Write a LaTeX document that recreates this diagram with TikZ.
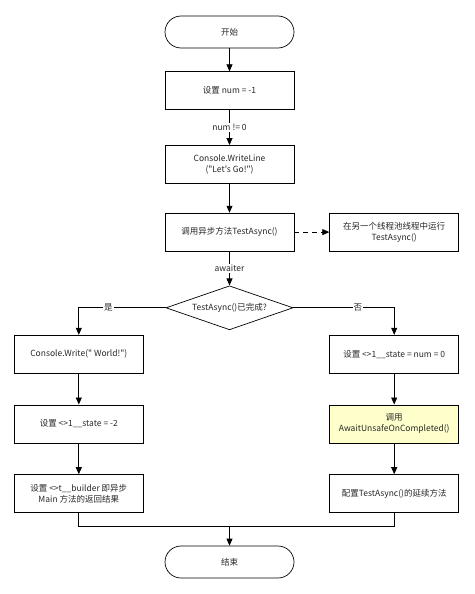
\documentclass[tikz,border=0pt]{standalone}
\usepackage{fontspec}
\setmainfont{Noto Sans CJK SC}[Ligatures=TeXOff]
\usetikzlibrary{shapes, arrows.meta, positioning, calc}
\definecolor{noteyellow}{RGB}{255,255,204}

\begin{document}
\begin{tikzpicture}[x=1pt, y=1pt,
					every node/.style={font=\fontsize{8.5}{11}\selectfont, text=black!85},
					box/.style={draw, rectangle, align=center, inner sep=2pt,
						minimum width=129pt, minimum height=38pt},
					term/.style={draw, rectangle, rounded corners=16pt,
						minimum width=129pt, minimum height=32pt},
					test/.style={draw, diamond, aspect=2.9, inner sep=0pt,
						minimum width=127pt, minimum height=44pt},
					arr/.style={-{Triangle[length=7pt, width=6pt]}},
					lbl/.style={fill=white, inner sep=1pt},
					line width=0.7pt]
				\useasboundingbox (0,0) rectangle (474,-594);

				\node[term]                 (start)   at (229.5,-32) {开始};
				\node[box, below=23pt of start]  (setnum) {设置 num = -1};
				\node[box, below=35pt of setnum] (hello)  {Console.WriteLine\\("Let's Go!")};
				\node[box, below=29pt of hello]  (call)   {调用异步方法TestAsync()};
				\node[box, right=35pt of call]   (pool)   {在另一个线程池线程中运行\\TestAsync()};
				\node[test, below=34pt of call]  (done)   {TestAsync()已完成?};

				\node[box, below left=27pt and 22pt of done.west] (world)    {Console.Write(" World!")};
				\node[box, below=31pt of world]                   (stateneg) {设置 <>1\_\_state = -2};
				\node[box, below=31pt of stateneg]                (builder)  {设置 <>t\_\_builder 即异步\\Main 方法的返回结果};

				\node[box, below right=27pt and 36pt of done.east] (statezero) {设置 <>1\_\_state = num = 0};
				\node[box, fill=noteyellow, below=31pt of statezero] (await)   {调用\\AwaitUnsafeOnCompleted()};
				\node[box, below=31pt of await]                    (cont)      {配置TestAsync()的延续方法};

				\node[term]                 (stop)    at (229.5,-562) {结束};
				\coordinate[above=19pt of stop] (join);

				\draw[arr] (start) -- (setnum);
				\draw[arr] (setnum) -- node[lbl] {num != 0} (hello);
				\draw[arr] (hello) -- (call);
				\draw[arr, dash pattern=on 5pt off 4pt] (call) -- (pool);
				\draw[arr] (call) -- node[lbl] {awaiter} (done);
				\draw[arr] (done.west) -| node[lbl, pos=0.33] {是} (world);
				\draw[arr] (done.east) -| node[lbl, pos=0.32] {否} (statezero);
				\foreach \from/\to in {world/stateneg, stateneg/builder,
										statezero/await, await/cont}
					\draw[arr] (\from) -- (\to);
				\draw (builder) |- (join) -| (cont);
				\draw[arr] (join) -- (stop);
			\end{tikzpicture}
\end{document}
